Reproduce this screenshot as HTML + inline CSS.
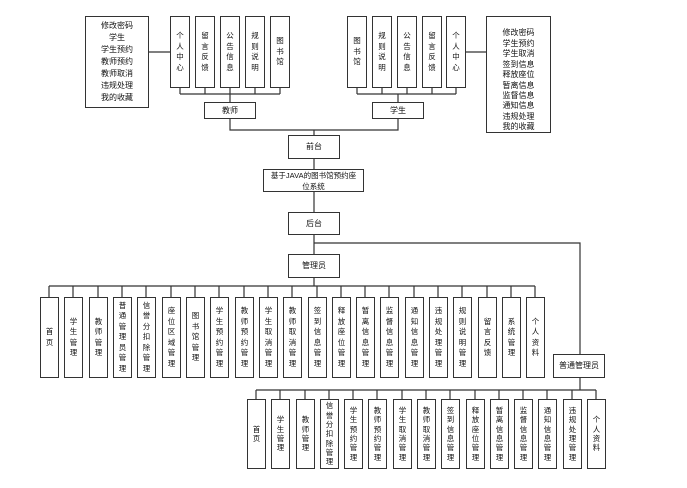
<!DOCTYPE html>
<html><head><meta charset="utf-8"><style>
body{margin:0;background:#fff;width:687px;height:488px;position:relative;overflow:hidden;font-family:"Liberation Sans","Noto Sans CJK SC",sans-serif;font-size:8px;color:#111}
.b{position:absolute;border:1.3px solid #333;box-sizing:border-box;background:#fff;display:flex;align-items:center;justify-content:center;text-align:center;line-height:10px}
.v>span{display:block;width:10px;font-size:7.5px;line-height:10.5px;word-break:break-all}
.r2>span{line-height:9.3px;font-size:7.5px}
.t{line-height:12px}
svg{position:absolute;left:0;top:0}
</style></head><body>
<svg width="687" height="488" stroke="#333" stroke-width="1.2" fill="none">
<path d="M149 52H170 M180 88V94 M205 88V94 M230 88V94 M255 88V94 M280 88V94 M180 94H280 M230 94V102"/>
<path d="M230 119V130H398V119 M314 130V135"/>
<path d="M466 52H486 M357 88V94 M382 88V94 M407 88V94 M432 88V94 M456 88V94 M357 94H456 M398 94V102"/>
<path d="M314 159V169 M314 192V212 M314 235V254 M314 243H580V354 M314 278V286 M580 378V390"/>
<path d="M49 286H535"/>
<path d="M49 286V297 M73 286V297 M98 286V297 M122 286V297 M146 286V297 M171 286V297 M195 286V297 M219 286V297 M244 286V297 M268 286V297 M292 286V297 M317 286V297 M341 286V297 M365 286V297 M389 286V297 M414 286V297 M438 286V297 M462 286V297 M487 286V297 M511 286V297 M535 286V297"/>
<path d="M256 390H596 M256 390V399 M280 390V399 M305 390V399 M329 390V399 M353 390V399 M377 390V399 M402 390V399 M426 390V399 M450 390V399 M475 390V399 M499 390V399 M523 390V399 M547 390V399 M572 390V399 M596 390V399"/>
</svg>

<div class="b t" style="left:85px;top:16px;width:64px;height:92px">修改密码<br>学生<br>学生预约<br>教师预约<br>教师取消<br>违规处理<br>我的收藏</div>
<div class="b v" style="left:170px;top:16px;width:20px;height:72px"><span>个人中心</span></div>
<div class="b v" style="left:195px;top:16px;width:20px;height:72px"><span>留言反馈</span></div>
<div class="b v" style="left:220px;top:16px;width:20px;height:72px"><span>公告信息</span></div>
<div class="b v" style="left:245px;top:16px;width:20px;height:72px"><span>规则说明</span></div>
<div class="b v" style="left:270px;top:16px;width:20px;height:72px"><span>图书馆</span></div>
<div class="b" style="left:204px;top:102px;width:52px;height:17px">教师</div>

<div class="b v" style="left:347px;top:16px;width:20px;height:72px"><span>图书馆</span></div>
<div class="b v" style="left:372px;top:16px;width:20px;height:72px"><span>规则说明</span></div>
<div class="b v" style="left:397px;top:16px;width:20px;height:72px"><span>公告信息</span></div>
<div class="b v" style="left:422px;top:16px;width:20px;height:72px"><span>留言反馈</span></div>
<div class="b v" style="left:446px;top:16px;width:20px;height:72px"><span>个人中心</span></div>
<div class="b" style="left:486px;top:16px;width:65px;height:117px;line-height:10.4px;padding-top:12px">修改密码<br>学生预约<br>学生取消<br>签到信息<br>释放座位<br>暂离信息<br>监督信息<br>通知信息<br>违规处理<br>我的收藏</div>
<div class="b" style="left:372px;top:102px;width:52px;height:17px">学生</div>

<div class="b" style="left:288px;top:135px;width:52px;height:24px">前台</div>
<div class="b" style="left:263px;top:169px;width:101px;height:23px;line-height:11px;font-size:7.5px">基于JAVA的图书馆预约座<br>位系统</div>
<div class="b" style="left:288px;top:212px;width:52px;height:23px">后台</div>
<div class="b" style="left:288px;top:254px;width:52px;height:24px">管理员</div>
<div class="b" style="left:553px;top:354px;width:52px;height:24px">普通管理员</div>

<div class="b v" style="left:40px;top:297px;width:19px;height:81px"><span>首页</span></div>
<div class="b v" style="left:64px;top:297px;width:19px;height:81px"><span>学生管理</span></div>
<div class="b v" style="left:89px;top:297px;width:19px;height:81px"><span>教师管理</span></div>
<div class="b v" style="left:113px;top:297px;width:19px;height:81px"><span>普通管理员管理</span></div>
<div class="b v" style="left:137px;top:297px;width:19px;height:81px"><span>信誉分扣除管理</span></div>
<div class="b v" style="left:162px;top:297px;width:19px;height:81px"><span>座位区域管理</span></div>
<div class="b v" style="left:186px;top:297px;width:19px;height:81px"><span>图书馆管理</span></div>
<div class="b v" style="left:210px;top:297px;width:19px;height:81px"><span>学生预约管理</span></div>
<div class="b v" style="left:235px;top:297px;width:19px;height:81px"><span>教师预约管理</span></div>
<div class="b v" style="left:259px;top:297px;width:19px;height:81px"><span>学生取消管理</span></div>
<div class="b v" style="left:283px;top:297px;width:19px;height:81px"><span>教师取消管理</span></div>
<div class="b v" style="left:308px;top:297px;width:19px;height:81px"><span>签到信息管理</span></div>
<div class="b v" style="left:332px;top:297px;width:19px;height:81px"><span>释放座位管理</span></div>
<div class="b v" style="left:356px;top:297px;width:19px;height:81px"><span>暂离信息管理</span></div>
<div class="b v" style="left:380px;top:297px;width:19px;height:81px"><span>监督信息管理</span></div>
<div class="b v" style="left:405px;top:297px;width:19px;height:81px"><span>通知信息管理</span></div>
<div class="b v" style="left:429px;top:297px;width:19px;height:81px"><span>违规处理管理</span></div>
<div class="b v" style="left:453px;top:297px;width:19px;height:81px"><span>规则说明管理</span></div>
<div class="b v" style="left:478px;top:297px;width:19px;height:81px"><span>留言反馈</span></div>
<div class="b v" style="left:502px;top:297px;width:19px;height:81px"><span>系统管理</span></div>
<div class="b v" style="left:526px;top:297px;width:19px;height:81px"><span>个人资料</span></div>

<div class="b v r2" style="left:247px;top:399px;width:19px;height:70px"><span>首页</span></div>
<div class="b v r2" style="left:271px;top:399px;width:19px;height:70px"><span>学生管理</span></div>
<div class="b v r2" style="left:296px;top:399px;width:19px;height:70px"><span>教师管理</span></div>
<div class="b v r2" style="left:320px;top:399px;width:19px;height:70px"><span>信誉分扣除管理</span></div>
<div class="b v r2" style="left:344px;top:399px;width:19px;height:70px"><span>学生预约管理</span></div>
<div class="b v r2" style="left:368px;top:399px;width:19px;height:70px"><span>教师预约管理</span></div>
<div class="b v r2" style="left:393px;top:399px;width:19px;height:70px"><span>学生取消管理</span></div>
<div class="b v r2" style="left:417px;top:399px;width:19px;height:70px"><span>教师取消管理</span></div>
<div class="b v r2" style="left:441px;top:399px;width:19px;height:70px"><span>签到信息管理</span></div>
<div class="b v r2" style="left:466px;top:399px;width:19px;height:70px"><span>释放座位管理</span></div>
<div class="b v r2" style="left:490px;top:399px;width:19px;height:70px"><span>暂离信息管理</span></div>
<div class="b v r2" style="left:514px;top:399px;width:19px;height:70px"><span>监督信息管理</span></div>
<div class="b v r2" style="left:538px;top:399px;width:19px;height:70px"><span>通知信息管理</span></div>
<div class="b v r2" style="left:563px;top:399px;width:19px;height:70px"><span>违规处理管理</span></div>
<div class="b v r2" style="left:587px;top:399px;width:19px;height:70px"><span>个人资料</span></div>
</body></html>
